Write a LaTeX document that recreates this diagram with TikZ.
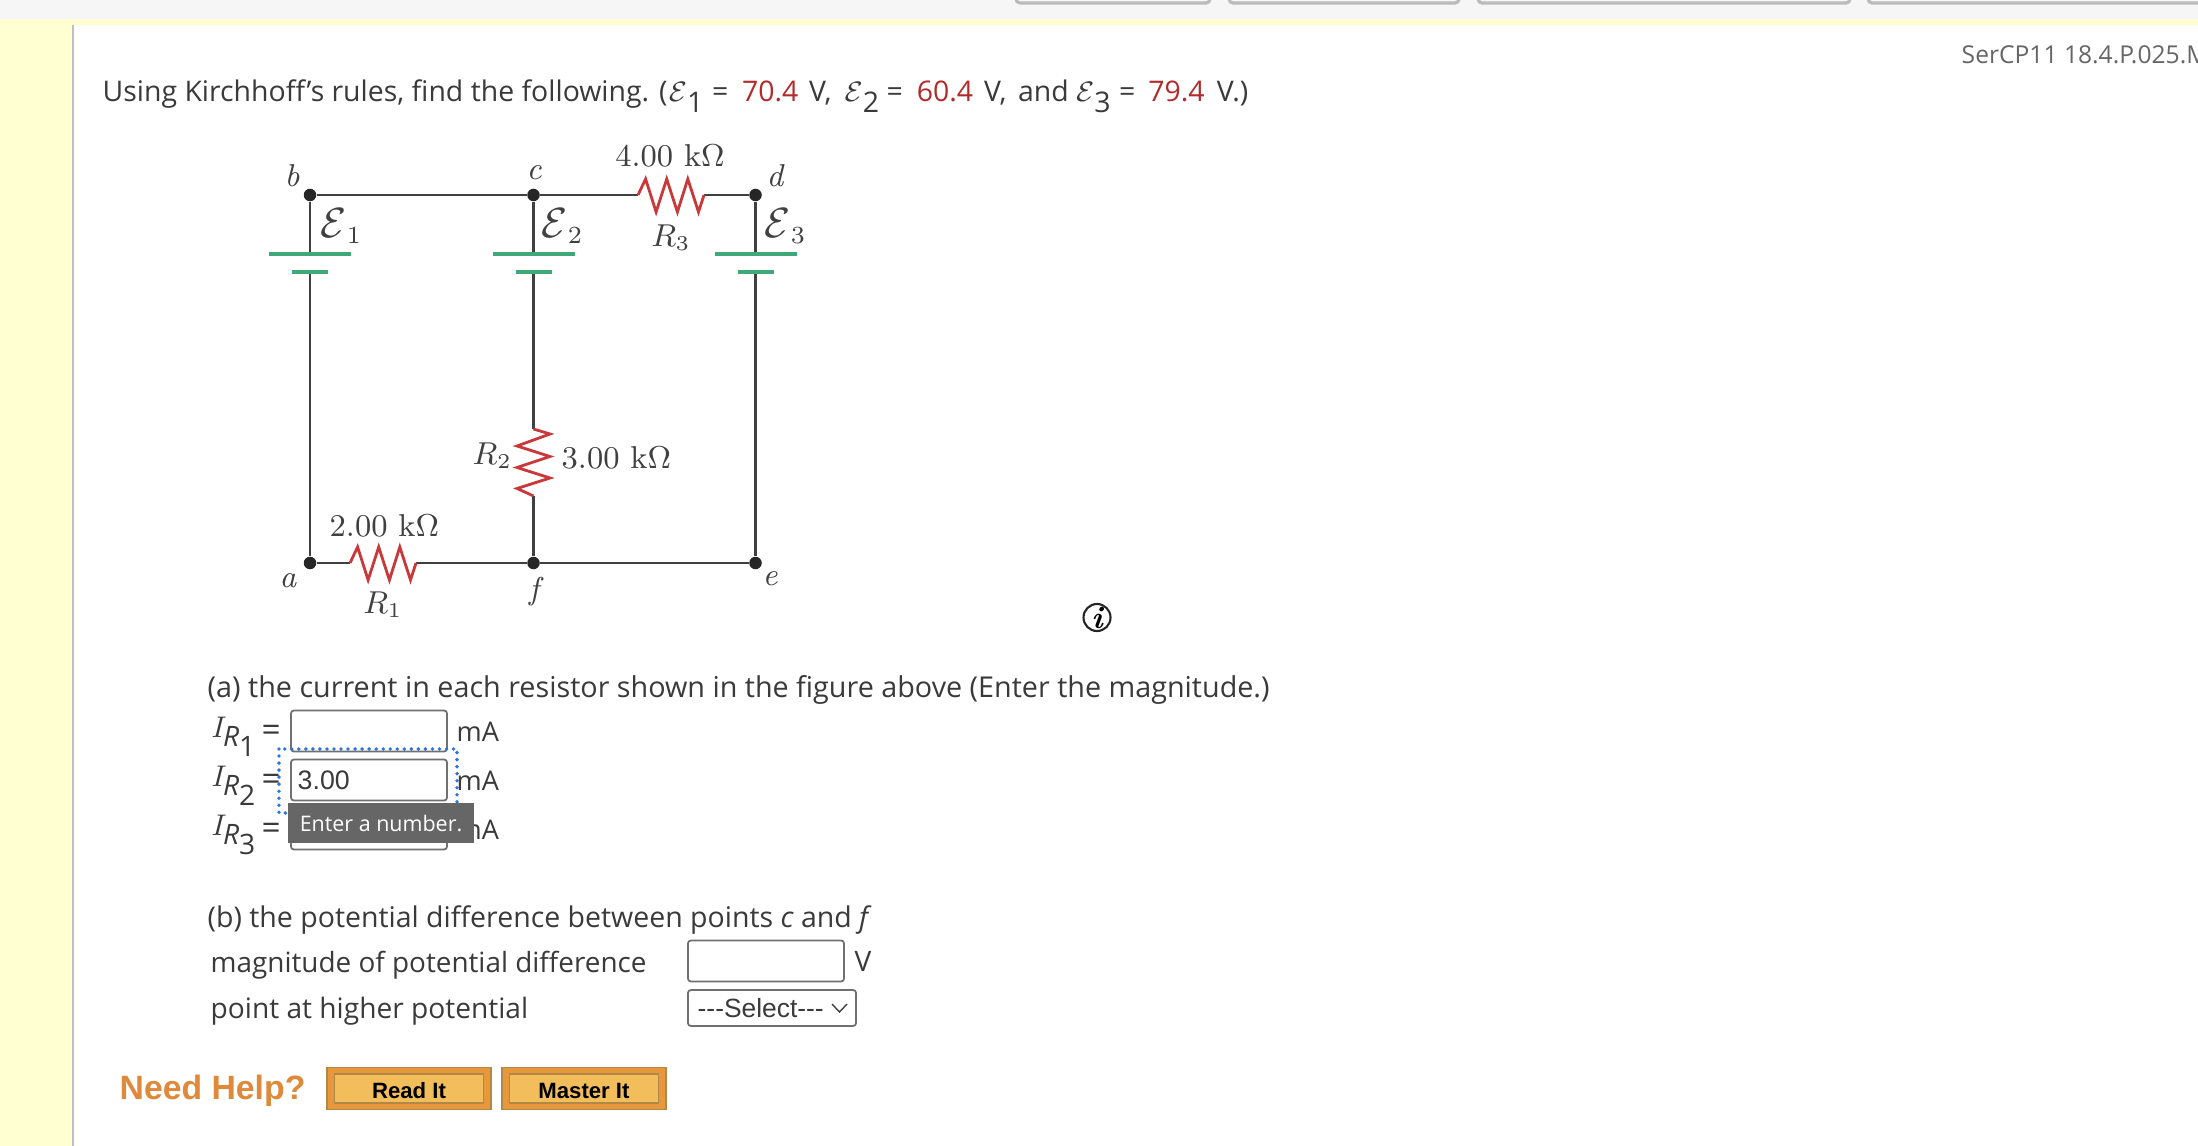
\documentclass[tikz,border=0pt]{standalone}
\usepackage{fontspec}
\usetikzlibrary{calc}
\setmainfont{Open Sans}
\newfontfamily\figfont{Latin Modern Roman}
\newfontfamily\arialfont{Liberation Sans}
\definecolor{bandgray}{HTML}{F6F6F6}
\definecolor{tabgray}{HTML}{BBBBBB}
\definecolor{paleyellow}{HTML}{FFFFD2}
\definecolor{bodytext}{HTML}{3A3A3A}
\definecolor{valred}{HTML}{B22A2A}
\definecolor{plategreen}{HTML}{3FA878}
\definecolor{resred}{HTML}{C9393A}
\definecolor{wiregray}{HTML}{404040}
\definecolor{boxgray}{HTML}{707070}
\definecolor{tipgray}{HTML}{666666}
\definecolor{focusblue}{HTML}{2F74DB}
\definecolor{helporange}{HTML}{DF8A3A}
\definecolor{btnfill}{HTML}{F2BE5C}
\definecolor{btnedge}{HTML}{E7983C}
\definecolor{btnline}{HTML}{B08848}
\newcommand{\emf}[1]{$\mathcal{E}$\raisebox{-0.7ex}{#1}}
\newcommand{\bigemf}[1]{{\fontsize{13}{15}\selectfont$\mathcal{E}$}\raisebox{-0.4ex}{\fontsize{7}{9}\selectfont #1}}
\newcommand{\curr}[1]{{\figfont\itshape\fontsize{8.5}{10}\selectfont I}\raisebox{-2.8pt}{\textit{R}\raisebox{-2.8pt}{#1}}}
\tikzset{
  body/.style={anchor=base west,inner sep=0pt,text=bodytext,font=\fontsize{8}{10}\selectfont},
  circ/.style={inner sep=0pt,text=black!75,font=\figfont\fontsize{9}{11}\selectfont},
  ptlabel/.style={circ,font=\figfont\itshape\fontsize{9}{11}\selectfont},
  wire/.style={color=wiregray,line width=0.6pt},
  plate/.style={color=plategreen,line width=1pt},
  res/.style={color=resred,line width=0.8pt,line join=miter},
  dot/.style={circle,fill=black!85,inner sep=0pt,minimum size=0.125cm},
  inbox/.style={draw=boxgray,line width=0.5pt,fill=white,rounded corners=0.3mm,inner sep=0pt},
  btn/.style={draw=btnline,line width=0.4pt,fill=btnedge,inner sep=0pt},
  btnin/.style={draw=btnline,line width=0.4pt,fill=btnfill,inner sep=0pt,text=black,font=\arialfont\bfseries\fontsize{6.3}{8}\selectfont,text height=0.2cm,text depth=0.0cm}
}
\begin{document}
\begin{tikzpicture}[x=0.01cm,y=-0.01cm]
\useasboundingbox (0,0) rectangle (2198,1146);
\clip (0,0) rectangle (2198,1146);

% page background
\fill [color=white] (0,0) rectangle (2198,1146);
\fill [color=paleyellow] (0,19) rectangle (2198,25);
\fill [color=paleyellow] (0,19) rectangle (73,1146);
\fill [color=bandgray] (0,0) rectangle (2198,19);
\draw [color=black!25, line width=0.4pt] (73,25) -- (73,1146);

% tabs cut off at the top
\draw [color=tabgray, line width=0.9pt, rounded corners=0.4mm] (1016,-6) -- (1016,3) -- (1210,3) -- (1210,-6);
\draw [color=tabgray, line width=0.9pt, rounded corners=0.4mm] (1229,-6) -- (1229,3) -- (1459,3) -- (1459,-6);
\draw [color=tabgray, line width=0.9pt, rounded corners=0.4mm] (1478,-6) -- (1478,3) -- (1850,3) -- (1850,-6);
\draw [color=tabgray, line width=0.9pt, rounded corners=0.4mm] (1868,-6) -- (1868,3) -- (2230,3);

\node (code) [body, text=black!60, font=\fontsize{7}{9}\selectfont] at (1961,64) {SerCP11 18.4.P.025.M};
\node (intro) [body, font=\fontsize{8.08}{10}\selectfont] at (102,101.5) {Using Kirchhoff's rules, find the following. (\kern0.4pt\emf{1}\kern0.4pt{} = \kern1.8pt\textcolor{valred}{70.4}\kern1pt{} V, \kern1.6pt\emf{2} = \kern1.9pt\textcolor{valred}{60.4}\kern1pt{} V,\kern1.2pt{} and \emf{3}\kern0.3pt{} = \kern1.6pt\textcolor{valred}{79.4}\kern1.4pt{} V.)};

% circuit
\node (b) [dot] at (310,195) {};
\node (c) [dot] at (533.5,195) {};
\node (d) [dot] at (755.5,195) {};
\node (a) [dot] at (310,563) {};
\node (f) [dot] at (533.5,563) {};
\node (e) [dot] at (755.5,563) {};

\coordinate (r3in) at (638,195);
\coordinate (r3out) at (704,195);
\coordinate (r1in) at (350,563);
\coordinate (r1out) at (416,563);
\coordinate (r2in) at (533.5,429);
\coordinate (r2out) at (533.5,496);

\coordinate (b1top) at (310,254);
\coordinate (b1bot) at (310,272);
\coordinate (b2top) at (533.5,254);
\coordinate (b2bot) at (533.5,272);
\coordinate (b3top) at (755.5,254);
\coordinate (b3bot) at (755.5,272);

\draw [wire] (b) -- (c);
\draw [wire] (c) -- (r3in);
\draw [wire] (r3out) -- (d);
\draw [wire] (a) -- (r1in);
\draw [wire] (r1out) -- (f);
\draw [wire] (f) -- (e);
\draw [wire] (b) -- (b1top);
\draw [wire] (b1bot) -- (a);
\draw [wire] (c) -- (b2top);
\draw [wire] (b2bot) -- (r2in);
\draw [wire] (r2out) -- (f);
\draw [wire] (d) -- (b3top);
\draw [wire] (b3bot) -- (e);

\draw [plate] ($(b1top)+(-41,0)$) -- ($(b1top)+(41,0)$);
\draw [plate] ($(b1bot)+(-18,0)$) -- ($(b1bot)+(18,0)$);
\draw [plate] ($(b2top)+(-41,0)$) -- ($(b2top)+(41,0)$);
\draw [plate] ($(b2bot)+(-18,0)$) -- ($(b2bot)+(18,0)$);
\draw [plate] ($(b3top)+(-41,0)$) -- ($(b3top)+(41,0)$);
\draw [plate] ($(b3bot)+(-18,0)$) -- ($(b3bot)+(18,0)$);

\draw [res] (r3in) -- ++(7.6,-16) -- ++(10.5,33) -- ++(10.6,-33) -- ++(10.7,33) -- ++(10.4,-33) -- ++(10.7,33) -- (r3out);
\draw [res] (r1in) -- ++(7.6,-16) -- ++(10.5,33) -- ++(10.6,-33) -- ++(10.7,33) -- ++(10.4,-33) -- ++(10.7,33) -- (r1out);
\draw [res] (r2in) -- ++(16.5,5) -- ++(-33,12) -- ++(33,10.5) -- ++(-33,11) -- ++(33,10.5) -- ++(-33,10.5) -- (r2out);

\node (lblb) [ptlabel] at (292,176) {b};
\node (lblc) [ptlabel] at (534,173) {c};
\node (lbld) [ptlabel] at (775,176) {d};
\node (lbla) [ptlabel] at (288,581) {a};
\node (lblf) [ptlabel] at (534,592) {f};
\node (lble) [ptlabel] at (770,579) {e};

\node (emfa) [circ, anchor=base west] at (320,238) {\bigemf{1}};
\node (emfb) [circ, anchor=base west] at (541,238) {\bigemf{2}};
\node (emfc) [circ, anchor=base west] at (764,238) {\bigemf{3}};

\node (val3) [circ, anchor=base] at (670,166.5) {4.00 k$\Omega$};
\node (val2) [circ, anchor=base west] at (561,468.5) {3.00 k$\Omega$};
\node (val1) [circ, anchor=base west] at (329,536.5) {2.00 k$\Omega$};
\node (nam3) [circ, anchor=base] at (671,246.5) {$R_3$};
\node (nam2) [circ, anchor=base west] at (472,464.5) {$R_2$};
\node (nam1) [circ, anchor=base] at (383,613.5) {$R_1$};

% info icon
\node (info) [circle, draw=black!85, line width=0.6pt, minimum size=0.27cm, inner sep=0pt, font=\figfont\itshape\bfseries\fontsize{9}{10}\selectfont] at (1097,617.5) {i};

% part a
\node (parta) [body, font=\fontsize{8.17}{10}\selectfont] at (207,697.5) {(a) the current in each resistor shown in the figure above (Enter the magnitude.)};

\node (box1) [inbox, minimum width=1.56cm, minimum height=0.41cm] at (369,731) {};
\node (box2) [inbox, minimum width=1.56cm, minimum height=0.41cm] at (369,780) {};
\node (box3) [inbox, minimum width=1.56cm, minimum height=0.41cm] at (369,829) {};

\draw [color=focusblue, line width=1.1pt, line cap=round, dash pattern=on 0pt off 2pt] (279,749) rectangle (457,813);

\node (cur1) [body] at (210,737) {\curr{1}};
\node (cur2) [body] at (210,786) {\curr{2}};
\node (cur3) [body] at (210,835) {\curr{3}};
\node (eq1) [body, font=\fontsize{9.5}{10}\selectfont] at (261,741.5) {=};
\node (eq2) [body, font=\fontsize{9.5}{10}\selectfont] at (261,790.5) {=};
\node (eq3) [body, font=\fontsize{9.5}{10}\selectfont] at (261,839.5) {=};
\node (unit1) [body, font=\fontsize{7.7}{10}\selectfont] at (456,741) {mA};
\node (unit2) [body, font=\fontsize{7.7}{10}\selectfont] at (456,790) {mA};
\node (unit3) [body, font=\fontsize{7.7}{10}\selectfont] at (456,839) {mA};
\node (given) [body, font=\arialfont\fontsize{7.6}{9}\selectfont] at (297,789) {3.00};

\node (tip) [fill=tipgray, minimum width=1.86cm, minimum height=0.4cm, inner sep=0pt, text=white, font=\fontsize{6.1}{8}\selectfont] at (381,823) {Enter a number.};

% part b
\node (partb) [body, font=\fontsize{8.1}{10}\selectfont] at (207,927) {(b) the potential difference between points \textit{c} and \textit{f}};
\node (magn) [body, font=\fontsize{7.93}{10}\selectfont] at (210,972.5) {magnitude of potential difference};
\node (point) [body] at (210,1018.5) {point at higher potential};
\node (box4) [inbox, minimum width=1.56cm, minimum height=0.41cm] at (766,961) {};
\node (unit4) [body] at (854,971) {V};
\node (pick) [inbox, minimum width=1.68cm, minimum height=0.36cm] at (772,1008) {};
\node (picktext) [body, font=\arialfont\fontsize{7.5}{9}\selectfont] at (697,1017) {---Select---};
\coordinate (chevl) at (832,1004);
\coordinate (chevm) at (839.5,1012);
\coordinate (chevr) at (847,1004);
\draw [color=black!75, line width=0.4pt] (chevl) -- (chevm) -- (chevr);

% help row
\node (help) [body, text=helporange, font=\arialfont\bfseries\fontsize{9.6}{11}\selectfont] at (119,1099) {Need Help?};
\node (read) [btn, minimum width=1.64cm, minimum height=0.42cm] at (409,1088.5) {};
\node (master) [btn, minimum width=1.64cm, minimum height=0.42cm] at (584,1088.5) {};
\node (readin) [btnin, minimum width=1.49cm, minimum height=0.29cm] at (read) {Read It};
\node (masterin) [btnin, minimum width=1.49cm, minimum height=0.29cm] at (master) {Master It};

\end{tikzpicture}
\end{document}
